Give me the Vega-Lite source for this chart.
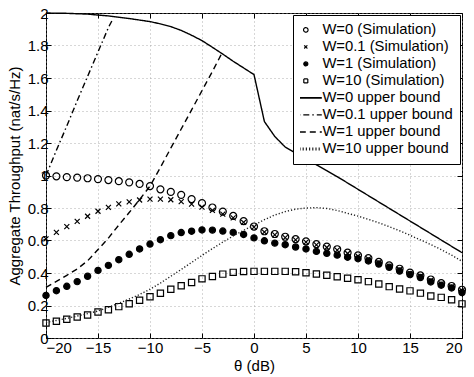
{
  "$schema": "https://vega.github.io/schema/vega-lite/v6.json",
  "width": 416,
  "height": 325,
  "autosize": "none",
  "padding": {"left": 46, "top": 13, "right": 12, "bottom": 39},
  "config": {
    "font": "Liberation Sans",
    "view": {"stroke": "black", "strokeWidth": 1},
    "axis": {
      "domain": false,
      "tickColor": "black",
      "tickSize": -5,
      "tickWidth": 1,
      "labelFont": "Liberation Sans",
      "labelFontSize": 15,
      "labelColor": "black",
      "titleFont": "Liberation Sans",
      "titleFontSize": 15,
      "titleFontWeight": "normal",
      "titleColor": "black",
      "gridColor": "#9a9a9a",
      "gridDash": [1, 3],
      "gridWidth": 0.8
    },
    "legend": {
      "orient": "top-right",
      "offset": 2,
      "padding": 7,
      "strokeColor": "black",
      "fillColor": "white",
      "labelFont": "Liberation Sans",
      "labelFontSize": 14.8,
      "labelColor": "black",
      "symbolSize": 100,
      "symbolStrokeWidth": 1.2,
      "symbolStrokeColor": "black",
      "symbolOpacity": 1,
      "clipHeight": 15.8,
      "rowPadding": 0,
      "symbolOffset": -1.6,
      "labelOffset": 9.2
    }
  },
  "datasets": {
    "sim": [
      {"t": -20, "s": "W=0 (Simulation)", "v": 1.0},
      {"t": -19, "s": "W=0 (Simulation)", "v": 0.995},
      {"t": -18, "s": "W=0 (Simulation)", "v": 0.99},
      {"t": -17, "s": "W=0 (Simulation)", "v": 0.987},
      {"t": -16, "s": "W=0 (Simulation)", "v": 0.983},
      {"t": -15, "s": "W=0 (Simulation)", "v": 0.978},
      {"t": -14, "s": "W=0 (Simulation)", "v": 0.972},
      {"t": -13, "s": "W=0 (Simulation)", "v": 0.965},
      {"t": -12, "s": "W=0 (Simulation)", "v": 0.958},
      {"t": -11, "s": "W=0 (Simulation)", "v": 0.948},
      {"t": -10, "s": "W=0 (Simulation)", "v": 0.935},
      {"t": -9, "s": "W=0 (Simulation)", "v": 0.915},
      {"t": -8, "s": "W=0 (Simulation)", "v": 0.899},
      {"t": -7, "s": "W=0 (Simulation)", "v": 0.881},
      {"t": -6, "s": "W=0 (Simulation)", "v": 0.855},
      {"t": -5, "s": "W=0 (Simulation)", "v": 0.83},
      {"t": -4, "s": "W=0 (Simulation)", "v": 0.803},
      {"t": -3, "s": "W=0 (Simulation)", "v": 0.778},
      {"t": -2, "s": "W=0 (Simulation)", "v": 0.751},
      {"t": -1, "s": "W=0 (Simulation)", "v": 0.719},
      {"t": 0, "s": "W=0 (Simulation)", "v": 0.686},
      {"t": 1, "s": "W=0 (Simulation)", "v": 0.657},
      {"t": 2, "s": "W=0 (Simulation)", "v": 0.64},
      {"t": 3, "s": "W=0 (Simulation)", "v": 0.623},
      {"t": 4, "s": "W=0 (Simulation)", "v": 0.609},
      {"t": 5, "s": "W=0 (Simulation)", "v": 0.595},
      {"t": 6, "s": "W=0 (Simulation)", "v": 0.578},
      {"t": 7, "s": "W=0 (Simulation)", "v": 0.562},
      {"t": 8, "s": "W=0 (Simulation)", "v": 0.546},
      {"t": 9, "s": "W=0 (Simulation)", "v": 0.525},
      {"t": 10, "s": "W=0 (Simulation)", "v": 0.509},
      {"t": 11, "s": "W=0 (Simulation)", "v": 0.492},
      {"t": 12, "s": "W=0 (Simulation)", "v": 0.468},
      {"t": 13, "s": "W=0 (Simulation)", "v": 0.447},
      {"t": 14, "s": "W=0 (Simulation)", "v": 0.426},
      {"t": 15, "s": "W=0 (Simulation)", "v": 0.402},
      {"t": 16, "s": "W=0 (Simulation)", "v": 0.385},
      {"t": 17, "s": "W=0 (Simulation)", "v": 0.36},
      {"t": 18, "s": "W=0 (Simulation)", "v": 0.338},
      {"t": 19, "s": "W=0 (Simulation)", "v": 0.32},
      {"t": 20, "s": "W=0 (Simulation)", "v": 0.297},
      {"t": -20, "s": "W=0.1 (Simulation)", "v": 0.61},
      {"t": -19, "s": "W=0.1 (Simulation)", "v": 0.65},
      {"t": -18, "s": "W=0.1 (Simulation)", "v": 0.685},
      {"t": -17, "s": "W=0.1 (Simulation)", "v": 0.718},
      {"t": -16, "s": "W=0.1 (Simulation)", "v": 0.749},
      {"t": -15, "s": "W=0.1 (Simulation)", "v": 0.78},
      {"t": -14, "s": "W=0.1 (Simulation)", "v": 0.804},
      {"t": -13, "s": "W=0.1 (Simulation)", "v": 0.825},
      {"t": -12, "s": "W=0.1 (Simulation)", "v": 0.838},
      {"t": -11, "s": "W=0.1 (Simulation)", "v": 0.849},
      {"t": -10, "s": "W=0.1 (Simulation)", "v": 0.855},
      {"t": -9, "s": "W=0.1 (Simulation)", "v": 0.855},
      {"t": -8, "s": "W=0.1 (Simulation)", "v": 0.851},
      {"t": -7, "s": "W=0.1 (Simulation)", "v": 0.839},
      {"t": -6, "s": "W=0.1 (Simulation)", "v": 0.824},
      {"t": -5, "s": "W=0.1 (Simulation)", "v": 0.805},
      {"t": -4, "s": "W=0.1 (Simulation)", "v": 0.785},
      {"t": -3, "s": "W=0.1 (Simulation)", "v": 0.762},
      {"t": -2, "s": "W=0.1 (Simulation)", "v": 0.739},
      {"t": -1, "s": "W=0.1 (Simulation)", "v": 0.712},
      {"t": 0, "s": "W=0.1 (Simulation)", "v": 0.682},
      {"t": 1, "s": "W=0.1 (Simulation)", "v": 0.652},
      {"t": 2, "s": "W=0.1 (Simulation)", "v": 0.635},
      {"t": 3, "s": "W=0.1 (Simulation)", "v": 0.618},
      {"t": 4, "s": "W=0.1 (Simulation)", "v": 0.604},
      {"t": 5, "s": "W=0.1 (Simulation)", "v": 0.59},
      {"t": 6, "s": "W=0.1 (Simulation)", "v": 0.573},
      {"t": 7, "s": "W=0.1 (Simulation)", "v": 0.557},
      {"t": 8, "s": "W=0.1 (Simulation)", "v": 0.541},
      {"t": 9, "s": "W=0.1 (Simulation)", "v": 0.52},
      {"t": 10, "s": "W=0.1 (Simulation)", "v": 0.504},
      {"t": 11, "s": "W=0.1 (Simulation)", "v": 0.487},
      {"t": 12, "s": "W=0.1 (Simulation)", "v": 0.463},
      {"t": 13, "s": "W=0.1 (Simulation)", "v": 0.442},
      {"t": 14, "s": "W=0.1 (Simulation)", "v": 0.421},
      {"t": 15, "s": "W=0.1 (Simulation)", "v": 0.397},
      {"t": 16, "s": "W=0.1 (Simulation)", "v": 0.38},
      {"t": 17, "s": "W=0.1 (Simulation)", "v": 0.355},
      {"t": 18, "s": "W=0.1 (Simulation)", "v": 0.333},
      {"t": 19, "s": "W=0.1 (Simulation)", "v": 0.315},
      {"t": 20, "s": "W=0.1 (Simulation)", "v": 0.292},
      {"t": -20, "s": "W=1 (Simulation)", "v": 0.262},
      {"t": -19, "s": "W=1 (Simulation)", "v": 0.291},
      {"t": -18, "s": "W=1 (Simulation)", "v": 0.318},
      {"t": -17, "s": "W=1 (Simulation)", "v": 0.347},
      {"t": -16, "s": "W=1 (Simulation)", "v": 0.38},
      {"t": -15, "s": "W=1 (Simulation)", "v": 0.416},
      {"t": -14, "s": "W=1 (Simulation)", "v": 0.447},
      {"t": -13, "s": "W=1 (Simulation)", "v": 0.482},
      {"t": -12, "s": "W=1 (Simulation)", "v": 0.515},
      {"t": -11, "s": "W=1 (Simulation)", "v": 0.548},
      {"t": -10, "s": "W=1 (Simulation)", "v": 0.578},
      {"t": -9, "s": "W=1 (Simulation)", "v": 0.605},
      {"t": -8, "s": "W=1 (Simulation)", "v": 0.63},
      {"t": -7, "s": "W=1 (Simulation)", "v": 0.649},
      {"t": -6, "s": "W=1 (Simulation)", "v": 0.657},
      {"t": -5, "s": "W=1 (Simulation)", "v": 0.665},
      {"t": -4, "s": "W=1 (Simulation)", "v": 0.664},
      {"t": -3, "s": "W=1 (Simulation)", "v": 0.658},
      {"t": -2, "s": "W=1 (Simulation)", "v": 0.65},
      {"t": -1, "s": "W=1 (Simulation)", "v": 0.637},
      {"t": 0, "s": "W=1 (Simulation)", "v": 0.616},
      {"t": 1, "s": "W=1 (Simulation)", "v": 0.598},
      {"t": 2, "s": "W=1 (Simulation)", "v": 0.584},
      {"t": 3, "s": "W=1 (Simulation)", "v": 0.574},
      {"t": 4, "s": "W=1 (Simulation)", "v": 0.56},
      {"t": 5, "s": "W=1 (Simulation)", "v": 0.548},
      {"t": 6, "s": "W=1 (Simulation)", "v": 0.533},
      {"t": 7, "s": "W=1 (Simulation)", "v": 0.521},
      {"t": 8, "s": "W=1 (Simulation)", "v": 0.51},
      {"t": 9, "s": "W=1 (Simulation)", "v": 0.497},
      {"t": 10, "s": "W=1 (Simulation)", "v": 0.488},
      {"t": 11, "s": "W=1 (Simulation)", "v": 0.474},
      {"t": 12, "s": "W=1 (Simulation)", "v": 0.455},
      {"t": 13, "s": "W=1 (Simulation)", "v": 0.435},
      {"t": 14, "s": "W=1 (Simulation)", "v": 0.412},
      {"t": 15, "s": "W=1 (Simulation)", "v": 0.39},
      {"t": 16, "s": "W=1 (Simulation)", "v": 0.372},
      {"t": 17, "s": "W=1 (Simulation)", "v": 0.345},
      {"t": 18, "s": "W=1 (Simulation)", "v": 0.325},
      {"t": 19, "s": "W=1 (Simulation)", "v": 0.308},
      {"t": 20, "s": "W=1 (Simulation)", "v": 0.28},
      {"t": -20, "s": "W=10 (Simulation)", "v": 0.092},
      {"t": -19, "s": "W=10 (Simulation)", "v": 0.103},
      {"t": -18, "s": "W=10 (Simulation)", "v": 0.115},
      {"t": -17, "s": "W=10 (Simulation)", "v": 0.129},
      {"t": -16, "s": "W=10 (Simulation)", "v": 0.142},
      {"t": -15, "s": "W=10 (Simulation)", "v": 0.16},
      {"t": -14, "s": "W=10 (Simulation)", "v": 0.174},
      {"t": -13, "s": "W=10 (Simulation)", "v": 0.193},
      {"t": -12, "s": "W=10 (Simulation)", "v": 0.211},
      {"t": -11, "s": "W=10 (Simulation)", "v": 0.232},
      {"t": -10, "s": "W=10 (Simulation)", "v": 0.254},
      {"t": -9, "s": "W=10 (Simulation)", "v": 0.275},
      {"t": -8, "s": "W=10 (Simulation)", "v": 0.3},
      {"t": -7, "s": "W=10 (Simulation)", "v": 0.322},
      {"t": -6, "s": "W=10 (Simulation)", "v": 0.341},
      {"t": -5, "s": "W=10 (Simulation)", "v": 0.364},
      {"t": -4, "s": "W=10 (Simulation)", "v": 0.378},
      {"t": -3, "s": "W=10 (Simulation)", "v": 0.393},
      {"t": -2, "s": "W=10 (Simulation)", "v": 0.404},
      {"t": -1, "s": "W=10 (Simulation)", "v": 0.409},
      {"t": 0, "s": "W=10 (Simulation)", "v": 0.41},
      {"t": 1, "s": "W=10 (Simulation)", "v": 0.41},
      {"t": 2, "s": "W=10 (Simulation)", "v": 0.41},
      {"t": 3, "s": "W=10 (Simulation)", "v": 0.41},
      {"t": 4, "s": "W=10 (Simulation)", "v": 0.408},
      {"t": 5, "s": "W=10 (Simulation)", "v": 0.402},
      {"t": 6, "s": "W=10 (Simulation)", "v": 0.394},
      {"t": 7, "s": "W=10 (Simulation)", "v": 0.386},
      {"t": 8, "s": "W=10 (Simulation)", "v": 0.377},
      {"t": 9, "s": "W=10 (Simulation)", "v": 0.368},
      {"t": 10, "s": "W=10 (Simulation)", "v": 0.358},
      {"t": 11, "s": "W=10 (Simulation)", "v": 0.347},
      {"t": 12, "s": "W=10 (Simulation)", "v": 0.332},
      {"t": 13, "s": "W=10 (Simulation)", "v": 0.316},
      {"t": 14, "s": "W=10 (Simulation)", "v": 0.302},
      {"t": 15, "s": "W=10 (Simulation)", "v": 0.29},
      {"t": 16, "s": "W=10 (Simulation)", "v": 0.276},
      {"t": 17, "s": "W=10 (Simulation)", "v": 0.258},
      {"t": 18, "s": "W=10 (Simulation)", "v": 0.25},
      {"t": 19, "s": "W=10 (Simulation)", "v": 0.235},
      {"t": 20, "s": "W=10 (Simulation)", "v": 0.21}
    ],
    "bound": [
      {"t": -20, "s": "W=0 upper bound", "v": 2.0},
      {"t": -18, "s": "W=0 upper bound", "v": 1.998},
      {"t": -16, "s": "W=0 upper bound", "v": 1.993},
      {"t": -14, "s": "W=0 upper bound", "v": 1.982},
      {"t": -12, "s": "W=0 upper bound", "v": 1.966},
      {"t": -10, "s": "W=0 upper bound", "v": 1.947},
      {"t": -9, "s": "W=0 upper bound", "v": 1.933},
      {"t": -8, "s": "W=0 upper bound", "v": 1.916},
      {"t": -7, "s": "W=0 upper bound", "v": 1.893},
      {"t": -6, "s": "W=0 upper bound", "v": 1.863},
      {"t": -5, "s": "W=0 upper bound", "v": 1.83},
      {"t": -4, "s": "W=0 upper bound", "v": 1.789},
      {"t": -3, "s": "W=0 upper bound", "v": 1.747},
      {"t": -2, "s": "W=0 upper bound", "v": 1.703},
      {"t": -1, "s": "W=0 upper bound", "v": 1.662},
      {"t": 0, "s": "W=0 upper bound", "v": 1.621},
      {"t": 1, "s": "W=0 upper bound", "v": 1.332},
      {"t": 2, "s": "W=0 upper bound", "v": 1.24},
      {"t": 3, "s": "W=0 upper bound", "v": 1.175},
      {"t": 4, "s": "W=0 upper bound", "v": 1.138},
      {"t": 5, "s": "W=0 upper bound", "v": 1.102},
      {"t": 6, "s": "W=0 upper bound", "v": 1.066},
      {"t": 7, "s": "W=0 upper bound", "v": 1.03},
      {"t": 8, "s": "W=0 upper bound", "v": 0.993},
      {"t": 9, "s": "W=0 upper bound", "v": 0.954},
      {"t": 10, "s": "W=0 upper bound", "v": 0.915},
      {"t": 11, "s": "W=0 upper bound", "v": 0.876},
      {"t": 12, "s": "W=0 upper bound", "v": 0.837},
      {"t": 13, "s": "W=0 upper bound", "v": 0.798},
      {"t": 14, "s": "W=0 upper bound", "v": 0.759},
      {"t": 15, "s": "W=0 upper bound", "v": 0.72},
      {"t": 16, "s": "W=0 upper bound", "v": 0.681},
      {"t": 17, "s": "W=0 upper bound", "v": 0.642},
      {"t": 18, "s": "W=0 upper bound", "v": 0.603},
      {"t": 19, "s": "W=0 upper bound", "v": 0.564},
      {"t": 20, "s": "W=0 upper bound", "v": 0.525},
      {"t": -20, "s": "W=0.1 upper bound", "v": 1.0},
      {"t": -19, "s": "W=0.1 upper bound", "v": 1.155},
      {"t": -18, "s": "W=0.1 upper bound", "v": 1.305},
      {"t": -17, "s": "W=0.1 upper bound", "v": 1.46},
      {"t": -16, "s": "W=0.1 upper bound", "v": 1.61},
      {"t": -15, "s": "W=0.1 upper bound", "v": 1.76},
      {"t": -14, "s": "W=0.1 upper bound", "v": 1.91},
      {"t": -13.6, "s": "W=0.1 upper bound", "v": 1.96},
      {"t": -20, "s": "W=1 upper bound", "v": 0.312},
      {"t": -19, "s": "W=1 upper bound", "v": 0.348},
      {"t": -18, "s": "W=1 upper bound", "v": 0.386},
      {"t": -17, "s": "W=1 upper bound", "v": 0.425},
      {"t": -16, "s": "W=1 upper bound", "v": 0.475},
      {"t": -15, "s": "W=1 upper bound", "v": 0.544},
      {"t": -14, "s": "W=1 upper bound", "v": 0.615},
      {"t": -13, "s": "W=1 upper bound", "v": 0.695},
      {"t": -12, "s": "W=1 upper bound", "v": 0.772},
      {"t": -11, "s": "W=1 upper bound", "v": 0.852},
      {"t": -10, "s": "W=1 upper bound", "v": 0.935},
      {"t": -9, "s": "W=1 upper bound", "v": 1.05},
      {"t": -8, "s": "W=1 upper bound", "v": 1.168},
      {"t": -7, "s": "W=1 upper bound", "v": 1.286},
      {"t": -6, "s": "W=1 upper bound", "v": 1.404},
      {"t": -5, "s": "W=1 upper bound", "v": 1.522},
      {"t": -4, "s": "W=1 upper bound", "v": 1.64},
      {"t": -3.15, "s": "W=1 upper bound", "v": 1.745},
      {"t": -20, "s": "W=10 upper bound", "v": 0.095},
      {"t": -19, "s": "W=10 upper bound", "v": 0.108},
      {"t": -18, "s": "W=10 upper bound", "v": 0.121},
      {"t": -17, "s": "W=10 upper bound", "v": 0.135},
      {"t": -16, "s": "W=10 upper bound", "v": 0.15},
      {"t": -15, "s": "W=10 upper bound", "v": 0.166},
      {"t": -14, "s": "W=10 upper bound", "v": 0.189},
      {"t": -13, "s": "W=10 upper bound", "v": 0.214},
      {"t": -12, "s": "W=10 upper bound", "v": 0.24},
      {"t": -11, "s": "W=10 upper bound", "v": 0.268},
      {"t": -10, "s": "W=10 upper bound", "v": 0.3},
      {"t": -9, "s": "W=10 upper bound", "v": 0.338},
      {"t": -8, "s": "W=10 upper bound", "v": 0.38},
      {"t": -7, "s": "W=10 upper bound", "v": 0.422},
      {"t": -6, "s": "W=10 upper bound", "v": 0.465},
      {"t": -5, "s": "W=10 upper bound", "v": 0.508},
      {"t": -4, "s": "W=10 upper bound", "v": 0.55},
      {"t": -3, "s": "W=10 upper bound", "v": 0.59},
      {"t": -2, "s": "W=10 upper bound", "v": 0.628},
      {"t": -1, "s": "W=10 upper bound", "v": 0.662},
      {"t": 0, "s": "W=10 upper bound", "v": 0.695},
      {"t": 1, "s": "W=10 upper bound", "v": 0.728},
      {"t": 2, "s": "W=10 upper bound", "v": 0.757},
      {"t": 3, "s": "W=10 upper bound", "v": 0.778},
      {"t": 4, "s": "W=10 upper bound", "v": 0.793},
      {"t": 5, "s": "W=10 upper bound", "v": 0.8},
      {"t": 6, "s": "W=10 upper bound", "v": 0.802},
      {"t": 7, "s": "W=10 upper bound", "v": 0.797},
      {"t": 8, "s": "W=10 upper bound", "v": 0.785},
      {"t": 9, "s": "W=10 upper bound", "v": 0.767},
      {"t": 10, "s": "W=10 upper bound", "v": 0.75},
      {"t": 11, "s": "W=10 upper bound", "v": 0.73},
      {"t": 12, "s": "W=10 upper bound", "v": 0.709},
      {"t": 13, "s": "W=10 upper bound", "v": 0.685},
      {"t": 14, "s": "W=10 upper bound", "v": 0.66},
      {"t": 15, "s": "W=10 upper bound", "v": 0.632},
      {"t": 16, "s": "W=10 upper bound", "v": 0.604},
      {"t": 17, "s": "W=10 upper bound", "v": 0.575},
      {"t": 18, "s": "W=10 upper bound", "v": 0.544},
      {"t": 19, "s": "W=10 upper bound", "v": 0.51},
      {"t": 20, "s": "W=10 upper bound", "v": 0.472}
    ]
  },
  "resolve": {"axis": {"x": "independent", "y": "independent"}},
  "layer": [
    {
      "data": {"name": "sim"},
      "mark": {"type": "point", "filled": true, "stroke": "black", "strokeWidth": 1.2, "size": 243, "opacity": 1},
      "encoding": {
        "x": {
          "field": "t", "type": "quantitative",
          "scale": {"domain": [-20, 20], "nice": false, "zero": false},
          "axis": {"orient": "bottom", "values": [-20, -15, -10, -5, 0, 5, 10, 15, 20], "format": "d", "grid": true, "labelPadding": 7, "title": "θ (dB)", "titlePadding": 3}
        },
        "y": {
          "field": "v", "type": "quantitative",
          "scale": {"domain": [0, 2], "nice": false},
          "axis": {"orient": "left", "values": [0, 0.2, 0.4, 0.6, 0.8, 1, 1.2, 1.4, 1.6, 1.8, 2], "format": "~g", "grid": true, "labelPadding": 3, "title": "Aggregate Throughput (nat/s/Hz)", "titlePadding": 5}
        },
        "shape": {
          "field": "s", "type": "nominal",
          "scale": {
            "domain": ["W=0 (Simulation)", "W=0.1 (Simulation)", "W=1 (Simulation)", "W=10 (Simulation)", "W=0 upper bound", "W=0.1 upper bound", "W=1 upper bound", "W=10 upper bound"],
            "range": [
              "M0.45,0A0.45,0.45,0,1,1,-0.45,0A0.45,0.45,0,1,1,0.45,0Z",
              "M-0.32,-0.32L0.32,0.32M-0.32,0.32L0.32,-0.32",
              "M0.4,0A0.4,0.4,0,1,1,-0.4,0A0.4,0.4,0,1,1,0.4,0Z",
              "M-0.4,-0.4H0.4V0.4H-0.4Z",
              "M-3.2,0H3.2",
              "M-3.2,0H3.2",
              "M-3.2,0H3.2",
              "M-3.2,0H3.2"
            ]
          },
          "legend": {"title": null}
        },
        "fill": {
          "field": "s", "type": "nominal",
          "scale": {
            "domain": ["W=0 (Simulation)", "W=0.1 (Simulation)", "W=1 (Simulation)", "W=10 (Simulation)", "W=0 upper bound", "W=0.1 upper bound", "W=1 upper bound", "W=10 upper bound"],
            "range": ["transparent", "transparent", "black", "transparent", "transparent", "transparent", "transparent", "transparent"]
          },
          "legend": {"title": null}
        }
      }
    },
    {
      "data": {"name": "bound"},
      "mark": {"type": "line", "strokeWidth": 1.4},
      "encoding": {
        "x": {
          "field": "t", "type": "quantitative",
          "axis": {"orient": "top", "values": [-20, -15, -10, -5, 0, 5, 10, 15, 20], "labels": false, "grid": false, "title": null}
        },
        "y": {
          "field": "v", "type": "quantitative",
          "axis": {"orient": "right", "values": [0, 0.2, 0.4, 0.6, 0.8, 1, 1.2, 1.4, 1.6, 1.8, 2], "labels": false, "grid": false, "title": null}
        },
        "strokeDash": {
          "field": "s", "type": "nominal",
          "scale": {
            "domain": ["W=0 (Simulation)", "W=0.1 (Simulation)", "W=1 (Simulation)", "W=10 (Simulation)", "W=0 upper bound", "W=0.1 upper bound", "W=1 upper bound", "W=10 upper bound"],
            "range": [[1, 0], [1, 0], [1, 0], [1, 0], [1, 0], [6, 3, 1.5, 3], [6, 4], [1.2, 2]]
          },
          "legend": {"title": null}
        },
        "stroke": {
          "field": "s", "type": "nominal",
          "scale": {
            "domain": ["W=0 (Simulation)", "W=0.1 (Simulation)", "W=1 (Simulation)", "W=10 (Simulation)", "W=0 upper bound", "W=0.1 upper bound", "W=1 upper bound", "W=10 upper bound"],
            "range": ["black", "black", "black", "black", "black", "black", "black", "#222222"]
          },
          "legend": {"title": null}
        },
        "strokeWidth": {
          "field": "s", "type": "nominal",
          "scale": {
            "type": "ordinal",
            "domain": ["W=0 (Simulation)", "W=0.1 (Simulation)", "W=1 (Simulation)", "W=10 (Simulation)", "W=0 upper bound", "W=0.1 upper bound", "W=1 upper bound", "W=10 upper bound"],
            "range": [1.2, 1.2, 1.2, 1.2, 1.8, 1.3, 1.5, 3]
          },
          "legend": {"title": null}
        }
      }
    }
  ]
}
